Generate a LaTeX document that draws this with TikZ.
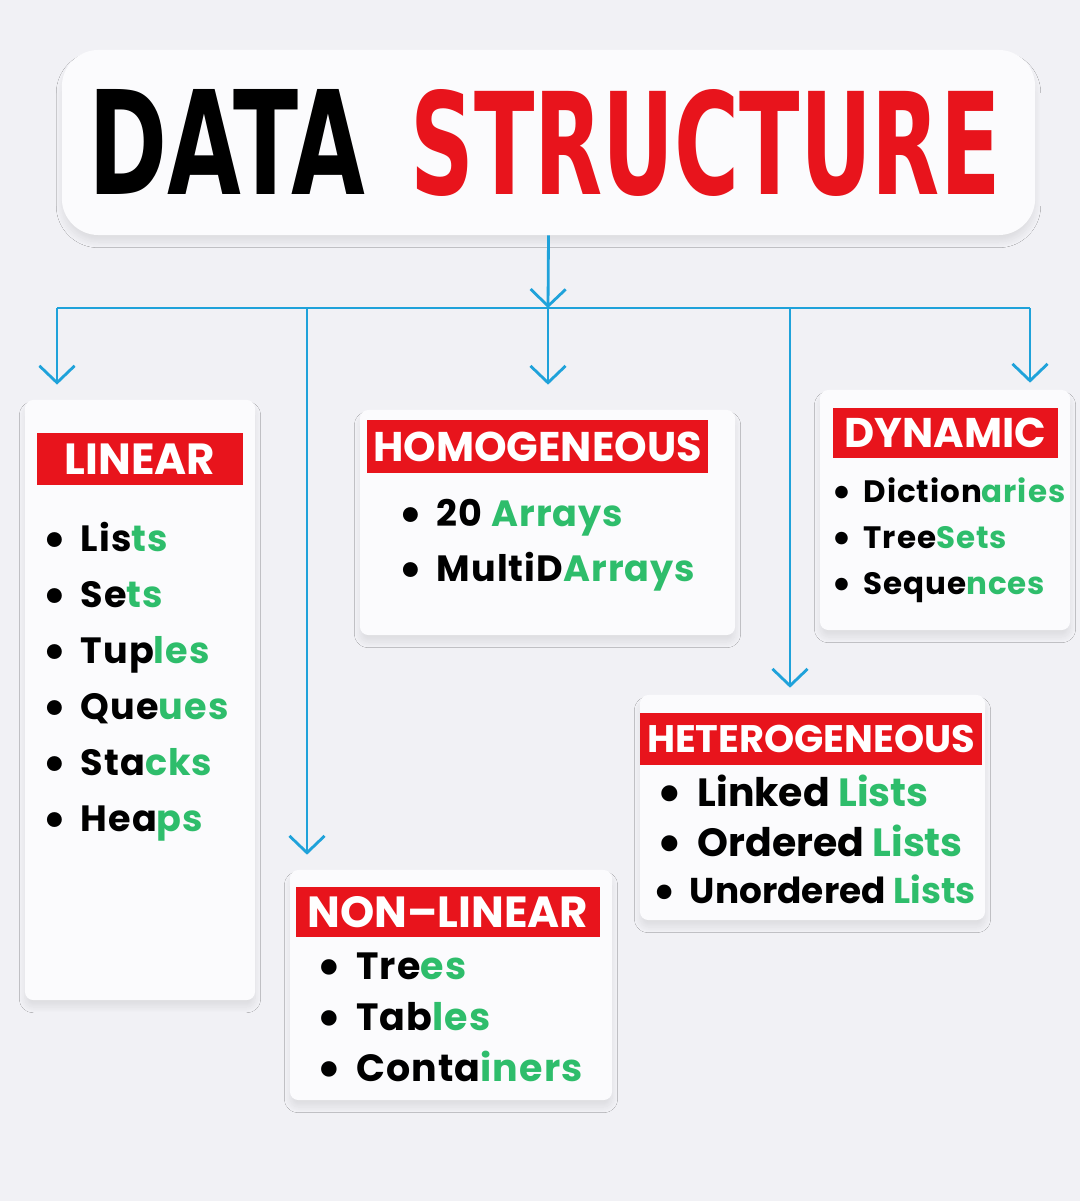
\documentclass[tikz,border=0pt]{standalone}
\usepackage{fontspec}
\usepackage{graphicx}
\setmainfont{Poppins}
\newfontfamily\titlefont{DejaVu Sans}
\usetikzlibrary{arrows.meta,shadows.blur,positioning}
\definecolor{dsred}{HTML}{E8141C}
\definecolor{dsgreen}{HTML}{2EBD6B}
\definecolor{dsblue}{HTML}{1FA2DA}
\definecolor{dsback}{HTML}{F1F1F5}
\definecolor{dscard}{HTML}{FBFBFD}
\newcommand\dsitem[2]{\makebox[1.05em][l]{\raisebox{-0.14em}{\scalebox{1.35}{\textbullet}}}#1\textcolor{dsgreen}{#2}}
\newcommand\dsfont[1]{\bfseries\fontsize{#1}{#1}\selectfont\addfontfeature{LetterSpace=3}}
\begin{document}
\begin{tikzpicture}[x=0.025cm,y=-0.025cm]
		\tikzset{card/.style = {fill=dscard, rounded corners=6pt, blur shadow={shadow xshift=0pt, shadow yshift=-5pt, shadow blur radius=4pt, shadow blur steps=12, shadow opacity=8}}}
		\tikzset{tag/.style = {fill=dsred, text=white, inner sep=0pt, minimum height=1.3cm, font=\bfseries\fontsize{29.5}{30}\selectfont}}
		\tikzset{entry/.style = {anchor=base west, inner sep=0pt, font=\dsfont{26}}}
		\tikzset{titletxt/.style = {anchor=base west, inner sep=0pt, font=\titlefont\bfseries}}
		\tikzset{link/.style = {draw=dsblue, line width=2pt, -{Straight Barb[length=12pt,width=25pt]}}}
		\fill[dsback] (0,0) rectangle (1080,1201);
		\useasboundingbox (0,0) rectangle (1080,1201);
		% title
		\node[card, rounded corners=26pt, minimum width=24.325cm, minimum height=4.625cm] (title) at (548.5,142.5) {};
		\node[titletxt] (data) at (88,195) {\resizebox{6.925cm}{2.625cm}{DATA}};
		\node[titletxt, text=dsred] (struct) at (410,195) {\resizebox{14.75cm}{2.625cm}{STRUCTURE}};
		% cards
		\node[card, minimum width=5.75cm, minimum height=15cm] (linear) at (140,700) {};
		\node[card, minimum width=9.375cm, minimum height=5.625cm] (homog) at (547.5,522.5) {};
		\node[card, minimum width=6.25cm, minimum height=6cm] (dynamic) at (945,510) {};
		\node[card, minimum width=8.625cm, minimum height=5.625cm] (hetero) at (812.5,807.5) {};
		\node[card, minimum width=8.05cm, minimum height=5.75cm] (nonlin) at (451,985) {};
		% labels
		\node[tag, minimum width=5.15cm, font=\bfseries\fontsize{31}{32}\selectfont] (linearT) at (140,459) {LINEAR};
		\node[tag, minimum width=8.525cm] (homogT) at (537.5,446.5) {HOMOGENEOUS};
		\node[tag, minimum width=5.625cm, minimum height=1.25cm] (dynamicT) at (945.5,433) {DYNAMIC};
		\node[tag, minimum width=8.55cm, font=\bfseries\fontsize{27.3}{28}\selectfont] (heteroT) at (811,739) {HETEROGENEOUS};
		\node[tag, minimum width=7.6cm, minimum height=1.25cm, font=\bfseries\fontsize{31}{31}\selectfont] (nonlinT) at (448,912) {NON--LINEAR};
		% entries
		\foreach \a/\b [count=\i from 0] in {Lis/ts,Se/ts,Tup/les,Que/ues,Sta/cks,Hea/ps}
			\node[entry] (lin\i) at (42,551+56*\i) {\dsitem{\a}{\b}};
		\foreach \a/\b [count=\i from 0] in {20~/Arrays,MultiD/Arrays}
			\node[entry] (hom\i) at (398,526+55*\i) {\dsitem{\a}{\b}};
		\foreach \a/\b [count=\i from 0] in {Diction/aries,Tree/Sets,Seque/nces}
			\node[entry, font=\dsfont{22}] (dyn\i) at (831,502+46*\i) {\dsitem{\a}{\b}};
		\foreach \a/\b [count=\i from 0] in {Tre/es,Tab/les,Conta/iners}
			\node[entry, font=\dsfont{27}] (non\i) at (316,979+51*\i) {\dsitem{\a}{\b}};
		\node[entry, font=\bfseries\fontsize{28}{28}\selectfont] (het0) at (656,806) {\dsitem{Linked~}{Lists}};
		\node[entry, font=\bfseries\fontsize{28}{28}\selectfont] (het1) at (656,856) {\dsitem{Ordered~}{Lists}};
		\node[entry, font=\bfseries\fontsize{25.5}{26}\selectfont] (het2) at (652,903) {\dsitem{Unordered~}{Lists}};
		% connectors
		\coordinate (hub) at (548,308);
		\coordinate (busL) at (57,308);
		\coordinate (busM) at (307,308);
		\coordinate (busN) at (790,308);
		\coordinate (busR) at (1030,308);
		\draw[link] (title.south) -- (hub);
		\draw[dsblue, line width=2pt] (busL) -- (busR);
		\draw[link, shorten >=0.375cm] (busL) -- (busL |- linear.north);
		\draw[link, shorten >=0.375cm] (busM) -- (busM |- nonlin.north);
		\draw[link, shorten >=0.625cm] (hub) -- (hub |- homog.north);
		\draw[link, shorten >=0.175cm] (busN) -- (busN |- hetero.north);
		\draw[link, shorten >=0.175cm] (busR) -- (busR |- dynamic.north);
	\end{tikzpicture}
\end{document}
